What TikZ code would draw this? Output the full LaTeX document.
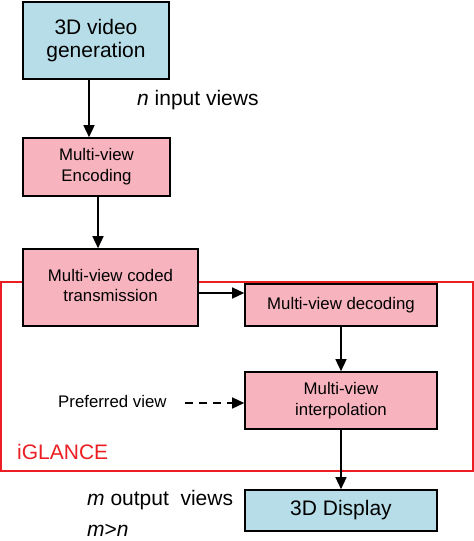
\documentclass[tikz,border=0pt]{standalone}
\usepackage{fontspec}
\setmainfont{Liberation Sans}
\usetikzlibrary{arrows.meta}
\definecolor{boxblue}{RGB}{183,222,232}
\definecolor{boxpink}{RGB}{248,180,190}
\definecolor{glancered}{RGB}{235,30,35}
\tikzset{
  x=1pt,y=-1pt,
  box/.style={draw=black,line width=1.6pt,inner sep=0pt,align=center},
  bluebox/.style={box,fill=boxblue,font=\fontsize{21}{24}\selectfont},
  pinkbox/.style={box,fill=boxpink,font=\fontsize{16.8}{21}\selectfont},
  arr/.style={line width=1.4pt,-{Triangle[length=12pt,width=11pt]}},
  bigtxt/.style={font=\fontsize{21}{24}\selectfont,inner sep=0pt},
  smalltxt/.style={font=\fontsize{16.8}{20}\selectfont,inner sep=0pt},
}
\begin{document}
\begin{tikzpicture}
\useasboundingbox (0,0) rectangle (474,541);
\fill[white] (0,0) rectangle (474,541);
% red iGLANCE frame
\draw[glancered,line width=1.8pt] (1,282) rectangle (473,471);
\node[bigtxt,text=glancered,anchor=west] (iglance) at (17,452) {iGLANCE};
% boxes
\node[bluebox,minimum width=146pt,minimum height=77pt] (gen) at (96,40.5) {3D video\\[-1pt]generation};
\node[pinkbox,minimum width=147pt,minimum height=58pt] (enc) at (96.5,167) {Multi-view\\Encoding};
\node[pinkbox,minimum width=175pt,minimum height=77pt,
  label={[pinkbox,draw=none,fill=none]center:\raisebox{9pt}{\begin{tabular}{@{}c@{}}Multi-view coded\\[-1pt]transmission\end{tabular}}}] (trans) at (110.5,287.5) {};
\node[pinkbox,minimum width=192pt,minimum height=42pt] (dec) at (341,305) {Multi-view decoding};
\node[pinkbox,minimum width=192pt,minimum height=57pt] (interp) at (341,400.5) {Multi-view\\interpolation};
\node[bluebox,minimum width=192pt,minimum height=41pt] (disp) at (341,510.5) {3D Display};
% labels
\node[bigtxt,anchor=west] (nin) at (137,100) {\textit{n} input views};
\node[smalltxt,anchor=west] (pref) at (58,401) {Preferred view};
\node[bigtxt,anchor=west] (mout) at (87,500) {\textit{m} output\ \ views};
\node[bigtxt,anchor=base west] (mn) at (87,536) {\textit{m}>\textit{n}};
\coordinate (prefend) at (185,403);
% connectors
\draw[arr] (gen.south -| 89,0) -- (enc.north -| 89,0);
\draw[arr] (enc.south -| 98,0) -- (trans.north -| 98,0);
\draw[arr] (trans.east |- 0,293) -- (dec.west |- 0,293);
\draw[arr] (dec.south) -- (interp.north);
\draw[arr,dashed,dash pattern=on 8pt off 6pt] (prefend) -- (interp.west |- prefend);
\draw[arr] (interp.south) -- (disp.north);
\end{tikzpicture}
\end{document}
